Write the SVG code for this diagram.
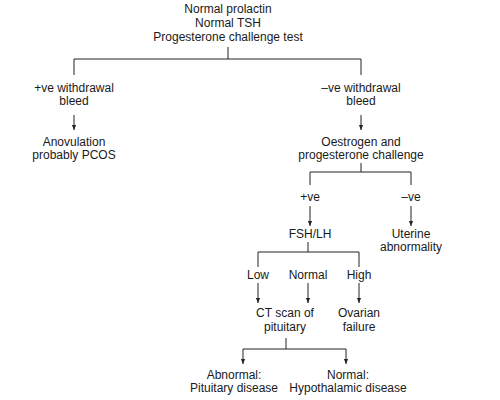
<svg xmlns="http://www.w3.org/2000/svg" width="500" height="400" viewBox="0 0 500 400">
<defs>
<marker id="ah" markerWidth="6" markerHeight="6" refX="5" refY="3" orient="auto" markerUnits="userSpaceOnUse">
<path d="M0,0.9 L5,3 L0,5.1 Z" fill="#222"/>
</marker>
<style>
text{font-family:"Liberation Sans",Arial,sans-serif;font-size:12px;fill:#1a1a1a;text-anchor:middle}
.l{fill:none;stroke:#222;stroke-width:1}
.a{fill:none;stroke:#222;stroke-width:1;marker-end:url(#ah)}
</style>
</defs>
<rect width="500" height="400" fill="#fff"/>
<g id="connectors">
<path class="l" d="M228,47 V59 M74,75 V59 H361 V75"/>
<path class="a" d="M74,115 V130"/>
<path class="a" d="M361,115 V130"/>
<path class="l" d="M361,163 V172 M310,185 V172 H411 V185"/>
<path class="a" d="M310,206 V226"/>
<path class="a" d="M411,206 V226"/>
<path class="l" d="M308,242 V252 M258,267 V252 H359 V267"/>
<path class="a" d="M258,283 V303"/>
<path class="a" d="M308,283 V303"/>
<path class="a" d="M359,283 V303"/>
<path class="l" d="M286,338 V349 M243,349 H346"/>
<path class="a" d="M243,349 V364"/>
<path class="a" d="M346,349 V364"/>
</g>
<g id="n-top"><text x="228" y="13">Normal prolactin</text><text x="228" y="27">Normal TSH</text><text x="228" y="41">Progesterone challenge test</text></g>
<g id="n-pos"><text x="74" y="92">+ve withdrawal</text><text x="74" y="105">bleed</text></g>
<g id="n-neg"><text x="361" y="92">–ve withdrawal</text><text x="361" y="105">bleed</text></g>
<g id="n-anov"><text x="74" y="146">Anovulation</text><text x="74" y="159">probably PCOS</text></g>
<g id="n-oest"><text x="361" y="146">Oestrogen and</text><text x="361" y="159">progesterone challenge</text></g>
<g id="n-pos2"><text x="310" y="201">+ve</text></g>
<g id="n-neg2"><text x="411" y="201">–ve</text></g>
<g id="n-fsh"><text x="310" y="238">FSH/LH</text></g>
<g id="n-uter"><text x="411" y="238">Uterine</text><text x="411" y="251">abnormality</text></g>
<g id="n-low"><text x="258" y="279">Low</text></g>
<g id="n-normal"><text x="308" y="279">Normal</text></g>
<g id="n-high"><text x="359" y="279">High</text></g>
<g id="n-ct"><text x="285" y="317">CT scan of</text><text x="285" y="331">pituitary</text></g>
<g id="n-ovar"><text x="359" y="317">Ovarian</text><text x="359" y="331">failure</text></g>
<g id="n-abn"><text x="234" y="379">Abnormal:</text><text x="234" y="392">Pituitary disease</text></g>
<g id="n-norm2"><text x="348" y="379">Normal:</text><text x="348" y="392">Hypothalamic disease</text></g>
</svg>
